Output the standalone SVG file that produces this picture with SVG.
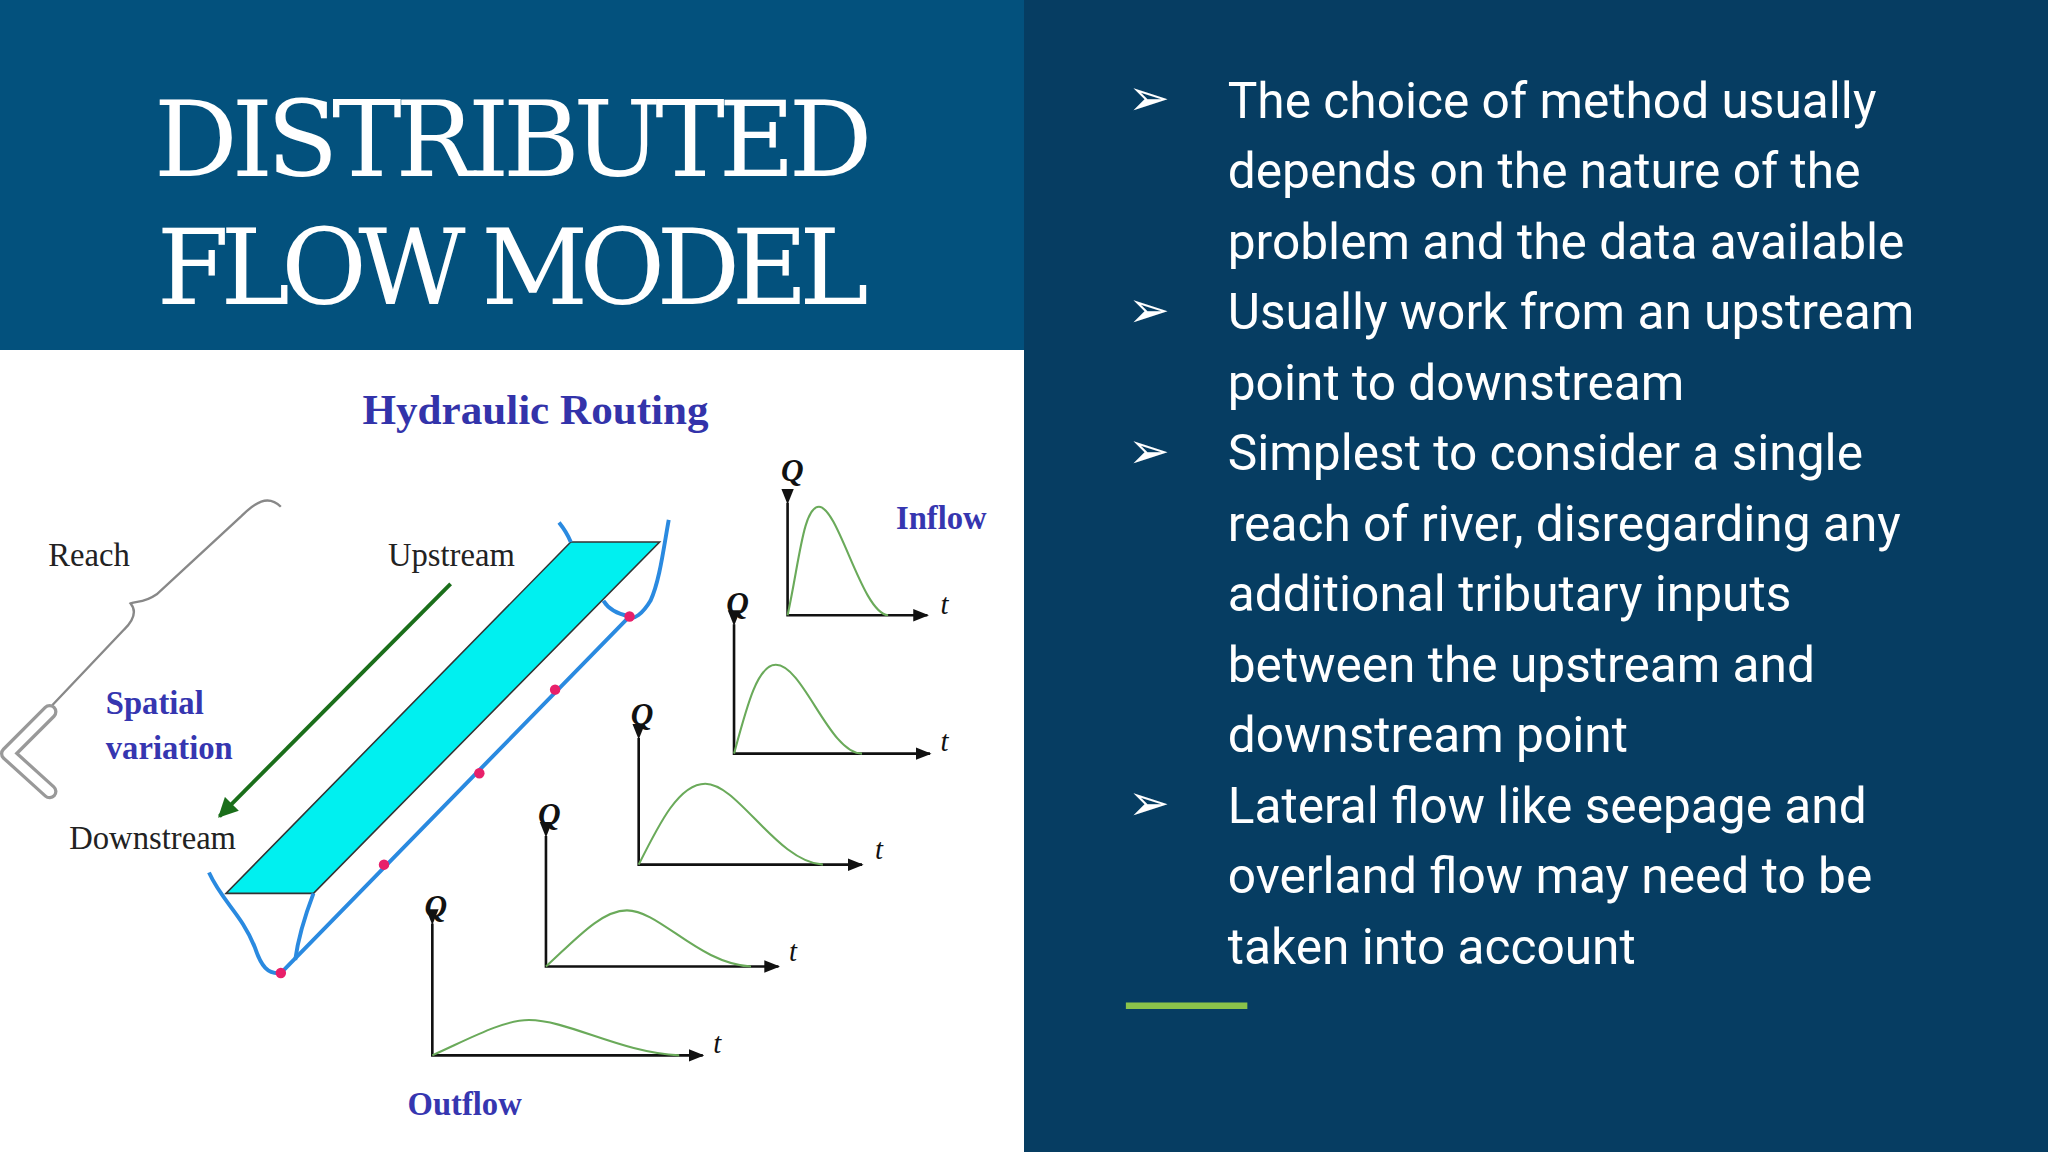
<svg xmlns="http://www.w3.org/2000/svg" width="2048" height="1152" viewBox="0 0 2048 1152">
<defs>
<style>
.title{font-family:"DejaVu Serif","Liberation Serif",serif;font-size:80px;fill:#fff}
.bul{font-family:Roboto,"Noto Sans",sans-serif;font-size:38px;fill:#fff}
.lbl{font-family:"Liberation Serif",serif;font-size:25px;fill:#222}
.blu{font-family:"Liberation Serif",serif;font-size:25px;font-weight:bold;fill:#3636b0}
.ax{fill:none;stroke:#111;stroke-width:2}
.cv{fill:none;stroke:#6aaa5a;stroke-width:1.6}
.it{font-family:"Liberation Serif",serif;font-style:italic;font-size:22px;fill:#111}
.itq{font-family:"Liberation Serif",serif;font-style:italic;font-weight:bold;font-size:24px;fill:#111}
.ch{fill:none;stroke:#2a8ae0;stroke-width:3}
.dot{fill:#e8206a}
</style>
<marker id="ah" viewBox="0 0 10 10" refX="9" refY="5" markerWidth="6" markerHeight="6" orient="auto"><path d="M0 1L10 5L0 9z" fill="#111"/></marker>
<marker id="ag" viewBox="0 0 10 10" refX="9" refY="5" markerWidth="5" markerHeight="5" orient="auto"><path d="M0 0L10 5L0 10z" fill="#1a6e1a"/></marker>
</defs>
<g transform="scale(1.30612)">
<rect x="0" y="0" width="784" height="268" fill="#03517d"/>
<rect x="784" y="0" width="784" height="882" fill="#063d62"/>
<rect x="0" y="268" width="784" height="614" fill="#fff"/>
<g id="title">
<text class="title" x="118" y="135" textLength="550">DISTRIBUTED</text>
<text class="title" x="120" y="233" textLength="545">FLOW MODEL</text>
</g>
<g id="bullets">
<text class="bul" x="864" y="88" font-size="30">➢</text>
<text class="bul" x="940" y="90">The choice of method usually</text>
<text class="bul" x="940" y="144">depends on the nature of the</text>
<text class="bul" x="940" y="198">problem and the data available</text>
<text class="bul" x="864" y="250" font-size="30">➢</text>
<text class="bul" x="940" y="252">Usually work from an upstream</text>
<text class="bul" x="940" y="306">point to downstream</text>
<text class="bul" x="864" y="358" font-size="30">➢</text>
<text class="bul" x="940" y="360">Simplest to consider a single</text>
<text class="bul" x="940" y="414">reach of river, disregarding any</text>
<text class="bul" x="940" y="468">additional tributary inputs</text>
<text class="bul" x="940" y="522">between the upstream and</text>
<text class="bul" x="940" y="576">downstream point</text>
<text class="bul" x="864" y="628" font-size="30">➢</text>
<text class="bul" x="940" y="630">Lateral flow like seepage and</text>
<text class="bul" x="940" y="684">overland flow may need to be</text>
<text class="bul" x="940" y="738">taken into account</text>
<line x1="862" y1="770" x2="955" y2="770" stroke="#8bc34a" stroke-width="5"/>
</g>
<g id="diagram">
<text x="410" y="325" text-anchor="middle" font-family="Liberation Serif,serif" font-weight="bold" font-size="33" fill="#3333aa">Hydraulic Routing</text>
<text class="lbl" x="37" y="433">Reach</text>
<text class="lbl" x="297" y="433">Upstream</text>
<text class="lbl" x="53" y="650">Downstream</text>
<text class="blu" x="81" y="547">Spatial</text>
<text class="blu" x="81" y="581">variation</text>
<text class="blu" x="686" y="405">Inflow</text>
<text class="blu" x="312" y="854">Outflow</text>
<path d="M215 388C205 378 195 385 185 395L120 455C110 462 105 460 100 462C105 468 102 475 95 482L40 540" fill="none" stroke="#888" stroke-width="1.8"/>
<path d="M38 545L6 577L38 606" fill="none" stroke="#999" stroke-width="12" stroke-linecap="round" stroke-linejoin="round"/>
<path d="M38 545L6 577L38 606" fill="none" stroke="#fff" stroke-width="7" stroke-linecap="round" stroke-linejoin="round"/>
<line x1="345" y1="447" x2="168" y2="625" stroke="#1a6e1a" stroke-width="3" marker-end="url(#ag)"/>
<polygon points="173,684 240,684 505,415 437,415" fill="#00f0f0" stroke="#333" stroke-width="1.2"/>
<path class="ch" d="M160 668C170 690 185 700 195 725C200 740 205 746 215 745L482 472"/>
<path class="ch" d="M240 684C232 705 228 720 226 735"/>
<path class="ch" d="M428 400C432 405 435 410 437 415"/>
<path class="ch" d="M512 398C508 420 505 445 498 460C492 470 485 475 482 472C472 470 465 465 462 460"/>
<circle class="dot" cx="482" cy="472" r="4"/>
<circle class="dot" cx="425" cy="528" r="4"/>
<circle class="dot" cx="367" cy="592" r="4"/>
<circle class="dot" cx="294" cy="662" r="4"/>
<circle class="dot" cx="215" cy="745" r="4"/>
<g id="g1"><path class="ax" d="M603 385V471H710" marker-start="url(#ah)" marker-end="url(#ah)"/><path class="cv" d="M603 471C612 430 615 388 627 388C642 388 660 470 680 471"/><text class="itq" x="598" y="368">Q</text><text class="it" x="720" y="470">t</text></g>
<g id="g2"><path class="ax" d="M562 478V577H712" marker-start="url(#ah)" marker-end="url(#ah)"/><path class="cv" d="M562 577C572 540 580 509 594 509C615 509 635 577 660 577"/><text class="itq" x="556" y="470">Q</text><text class="it" x="720" y="575">t</text></g>
<g id="g3"><path class="ax" d="M489 565V662H660" marker-start="url(#ah)" marker-end="url(#ah)"/><path class="cv" d="M489 662C505 630 520 600 540 600C565 600 595 660 630 662"/><text class="itq" x="483" y="555">Q</text><text class="it" x="670" y="658">t</text></g>
<g id="g4"><path class="ax" d="M418 640V740H596" marker-start="url(#ah)" marker-end="url(#ah)"/><path class="cv" d="M418 740C440 720 460 697 480 697C505 697 535 738 575 740"/><text class="itq" x="412" y="632">Q</text><text class="it" x="604" y="736">t</text></g>
<g id="g5"><path class="ax" d="M331 707V808H538" marker-start="url(#ah)" marker-end="url(#ah)"/><path class="cv" d="M331 808C360 795 385 781 405 781C435 781 475 806 520 808"/><text class="itq" x="325" y="702">Q</text><text class="it" x="546" y="806">t</text></g>
</g>
</g>
</svg>
